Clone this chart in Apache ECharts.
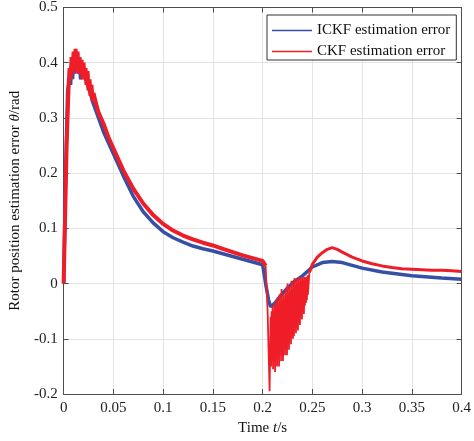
<!DOCTYPE html>
<html>
<head>
<meta charset="utf-8">
<script src="https://cdn.jsdelivr.net/npm/echarts@6/dist/echarts.min.js"></script>
<style>
  html, body { margin: 0; padding: 0; background: #fff; }
  #chart { width: 474px; height: 441px; }
</style>
</head>
<body>
<div id="chart"></div>
<script>
// Valores
const ickfTime = [0, 0.002, 0.004, 0.006, 0.007, 0.008, 0.009, 0.010, 0.011, 0.012, 0.013, 0.014, 0.015, 0.016, 0.017, 0.018, 0.020, 0.022, 0.025, 0.03, 0.035, 0.04, 0.045, 0.05, 0.06, 0.07, 0.08, 0.09, 0.1, 0.11, 0.12, 0.13, 0.14, 0.15, 0.16, 0.17, 0.18, 0.19, 0.2, 0.203, 0.206, 0.208, 0.212, 0.218, 0.225, 0.232, 0.24, 0.25, 0.26, 0.27, 0.28, 0.29, 0.3, 0.32, 0.35, 0.38, 0.4];
const ickfError = [0, 0.2, 0.35, 0.37, 0.36, 0.40, 0.37, 0.41, 0.38, 0.42, 0.39, 0.41, 0.38, 0.40, 0.37, 0.39, 0.38, 0.37, 0.355, 0.325, 0.3, 0.275, 0.255, 0.235, 0.195, 0.158, 0.13, 0.11, 0.094, 0.083, 0.075, 0.068, 0.063, 0.059, 0.054, 0.049, 0.044, 0.039, 0.034, 0.0, -0.03, -0.042, -0.036, -0.022, -0.008, 0.004, 0.014, 0.03, 0.038, 0.04, 0.038, 0.033, 0.028, 0.021, 0.014, 0.01, 0.008];

const ckfTimeA = [0, 0.003, 0.005, 0.006, 0.007, 0.008, 0.009, 0.010, 0.011, 0.012, 0.013, 0.014, 0.015, 0.016, 0.017, 0.018, 0.019, 0.020, 0.021, 0.022, 0.023, 0.024, 0.025, 0.026, 0.027, 0.028, 0.029, 0.030, 0.032, 0.035, 0.04, 0.045, 0.05, 0.06, 0.07, 0.08, 0.09, 0.1, 0.11, 0.12, 0.13, 0.14, 0.15, 0.16, 0.17, 0.18, 0.19, 0.2, 0.203];
const ckfErrorA = [0, 0.25, 0.36, 0.39, 0.37, 0.41, 0.38, 0.42, 0.385, 0.425, 0.39, 0.42, 0.38, 0.41, 0.385, 0.405, 0.37, 0.40, 0.37, 0.39, 0.36, 0.385, 0.35, 0.37, 0.34, 0.36, 0.33, 0.345, 0.33, 0.31, 0.29, 0.265, 0.245, 0.205, 0.172, 0.145, 0.124, 0.108, 0.096, 0.087, 0.08, 0.074, 0.069, 0.063, 0.057, 0.051, 0.046, 0.041, 0.032];

const ckfTimeB = [0.203, 0.205, 0.207, 0.2080, 0.2085, 0.2090, 0.2095, 0.2100, 0.2105, 0.2110, 0.2115, 0.2120, 0.2125, 0.2130, 0.2135, 0.2140, 0.2145, 0.2150, 0.2155, 0.2160, 0.2165, 0.2170, 0.2175, 0.2180, 0.2185, 0.2190, 0.2195, 0.2200, 0.2205, 0.2210, 0.2215, 0.2220, 0.2225, 0.2230, 0.2235, 0.2240, 0.2245, 0.2250, 0.2255, 0.2260, 0.2265, 0.2270, 0.2275, 0.2280, 0.2285, 0.2290, 0.2295, 0.2300, 0.2305, 0.2310, 0.2315, 0.2320, 0.2325, 0.2330, 0.2335, 0.2340, 0.2345, 0.2350, 0.2355, 0.2360, 0.2365, 0.2370, 0.2375, 0.2380, 0.2385, 0.2390, 0.2395, 0.2400, 0.2405, 0.2410, 0.2415, 0.2420, 0.2425, 0.2430, 0.2435, 0.2440, 0.2445, 0.2450, 0.2455, 0.247];
const ckfErrorB = [0.032, -0.05, -0.195, -0.06, -0.15, -0.05, -0.14, -0.04, -0.155, -0.05, -0.14, -0.035, -0.16, -0.04, -0.13, -0.03, -0.15, -0.025, -0.13, -0.04, -0.15, -0.02, -0.12, -0.035, -0.14, -0.01, -0.13, -0.03, -0.14, -0.02, -0.11, -0.03, -0.13, -0.01, -0.12, -0.02, -0.13, 0.0, -0.10, -0.02, -0.12, -0.005, -0.10, -0.015, -0.11, 0.005, -0.09, -0.01, -0.10, 0.0, -0.095, 0.01, -0.08, -0.005, -0.09, 0.008, -0.08, 0.0, -0.085, 0.012, -0.07, 0.002, -0.075, 0.01, -0.06, 0.005, -0.065, 0.012, -0.05, 0.008, -0.055, 0.012, -0.04, 0.01, -0.035, 0.012, -0.03, 0.015, -0.02, 0.02];

const ckfTimeC = [0.247, 0.25, 0.255, 0.26, 0.265, 0.27, 0.275, 0.28, 0.29, 0.3, 0.31, 0.32, 0.33, 0.34, 0.35, 0.36, 0.37, 0.38, 0.39, 0.4];
const ckfErrorC = [0.02, 0.035, 0.048, 0.056, 0.062, 0.065, 0.062, 0.057, 0.048, 0.041, 0.036, 0.032, 0.029, 0.027, 0.026, 0.025, 0.024, 0.024, 0.023, 0.022];

const xTicks = { min: 0, max: 0.4, interval: 0.05 };
const yTicks = { min: -0.2, max: 0.5, interval: 0.1 };

const pairs = (t, v) => t.map((x, i) => [x, v[i]]);

const FONT = '"Liberation Serif", "DejaVu Serif", serif';
const BLUE = '#3550a5';
const RED = '#ee1d27';
const AXIS = '#4d4d4d';

const axisCommon = {
  type: 'value',
  axisLine: { show: true, onZero: false, lineStyle: { color: AXIS, width: 1 } },
  axisTick: { show: true, inside: true, length: 5, lineStyle: { color: AXIS } },
  splitLine: { show: true, lineStyle: { color: '#e3e3e3', width: 1 } },
  axisLabel: { color: '#222', fontFamily: FONT, fontSize: 15 }
};

const option = {
  animation: false,
  backgroundColor: '#fff',
  grid: { left: 51, right: 11, top: 7, bottom: 45, containLabel: false },
  legend: {
    orient: 'vertical',
    left: 267,
    top: 15,
    width: 191,
    padding: [8, 6, 1, 5],
    icon: 'rect',
    itemWidth: 40,
    itemHeight: 1.3,
    itemGap: 6,
    borderColor: '#333',
    borderWidth: 1,
    backgroundColor: '#fff',
    textStyle: { fontFamily: FONT, fontSize: 15, color: '#111', lineHeight: 14 },
    data: ['ICKF estimation error', 'CKF estimation error']
  },
  xAxis: [
    Object.assign({}, axisCommon, {
      min: xTicks.min, max: xTicks.max, interval: xTicks.interval,
      name: '{a|Time }{b|t}{a|/s}',
      nameLocation: 'middle',
      nameGap: 27,
      nameTextStyle: {
        rich: {
          a: { fontFamily: FONT, fontSize: 15, color: '#111' },
          b: { fontFamily: FONT, fontSize: 15, color: '#111', fontStyle: 'italic' }
        }
      },
      axisLabel: Object.assign({}, axisCommon.axisLabel, { margin: 7 })
    }),
    Object.assign({}, axisCommon, {
      position: 'top',
      min: xTicks.min, max: xTicks.max, interval: xTicks.interval,
      axisLabel: { show: false },
      splitLine: { show: false }
    })
  ],
  yAxis: [
    Object.assign({}, axisCommon, {
      min: yTicks.min, max: yTicks.max, interval: yTicks.interval,
      name: '{a|Rotor position estimation error }{b|θ}{a|/rad}',
      nameLocation: 'middle',
      nameGap: 36,
      nameRotate: 90,
      nameTextStyle: {
        rich: {
          a: { fontFamily: FONT, fontSize: 15, color: '#111' },
          b: { fontFamily: FONT, fontSize: 15, color: '#111', fontStyle: 'italic' }
        }
      },
      axisLabel: Object.assign({}, axisCommon.axisLabel, { margin: 6 })
    }),
    Object.assign({}, axisCommon, {
      position: 'right',
      min: yTicks.min, max: yTicks.max, interval: yTicks.interval,
      axisLabel: { show: false },
      splitLine: { show: false }
    })
  ],
  series: [
    {
      name: 'ICKF estimation error',
      type: 'line',
      symbol: 'none',
      data: pairs(ickfTime, ickfError),
      lineStyle: { color: BLUE, width: 3.5 },
      itemStyle: { color: BLUE },
      z: 2
    },
    {
      name: 'CKF estimation error',
      type: 'line',
      symbol: 'none',
      data: pairs(ckfTimeA, ckfErrorA),
      lineStyle: { color: RED, width: 4 },
      itemStyle: { color: RED },
      z: 3
    },
    {
      name: 'CKF transient',
      type: 'line',
      symbol: 'none',
      data: pairs(ckfTimeB, ckfErrorB),
      lineStyle: { color: RED, width: 1.8 },
      itemStyle: { color: RED },
      z: 3
    },
    {
      name: 'CKF tail',
      type: 'line',
      symbol: 'none',
      data: pairs(ckfTimeC, ckfErrorC),
      lineStyle: { color: RED, width: 3 },
      itemStyle: { color: RED },
      z: 3
    }
  ]
};

const chart = echarts.init(document.getElementById('chart'), null, { renderer: 'canvas' });
chart.setOption(option);
window.addEventListener('resize', () => chart.resize());
</script>
</body>
</html>
